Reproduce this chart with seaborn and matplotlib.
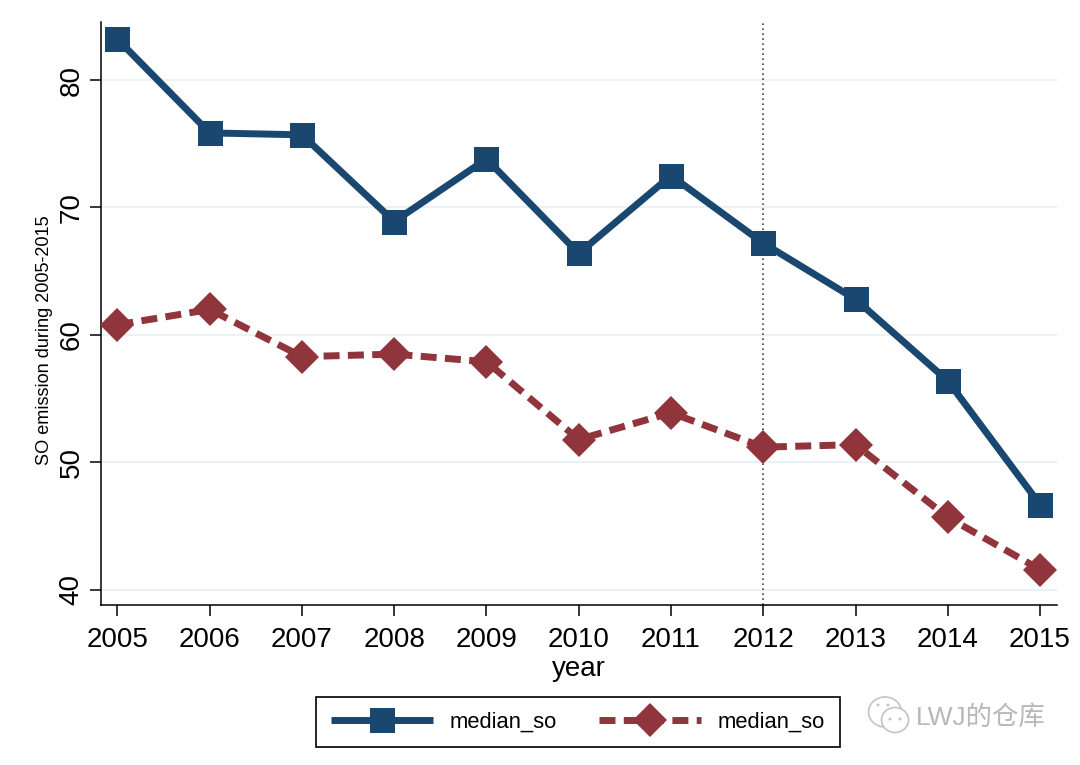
import pandas as pd
import matplotlib.pyplot as plt
import seaborn as sns
from matplotlib.patches import Ellipse

#--------------------------------------------------------
years=[2005,2006,2007,2008,2009,2010,2011,2012,2013,2014,2015]
so_high=[83.2,75.85,75.7,68.9,73.8,66.4,72.5,67.2,62.8,56.4,46.7]
so_low=[60.8,62.0,58.3,58.5,57.9,51.8,53.9,51.2,51.4,45.7,41.6]
y_ticks=[40,50,60,70,80]
vline_year=2012

c_blue='#1a476f'
c_red='#90353b'
c_grid='#eaf2f3'

#--------------------------------------------------------
sns.set_style('white')
plt.rcParams['font.family']=['Liberation Sans', 'Noto Sans CJK SC']

df=pd.DataFrame({'year':years, 'high':so_high, 'low':so_low})

W, H=1080, 765
fig=plt.figure(figsize=(W/100, H/100), dpi=100)
ax=fig.add_axes([100.5/W, 1-605/H, (1057-100.5)/W, (605-22)/H])

#plot
sns.lineplot(x='year', y='high', data=df, color=c_blue, lw=5, marker='s', ms=18,
	mew=0, solid_capstyle='butt', label='median_so', ax=ax, zorder=4, legend=False)
sns.lineplot(x='year', y='low', data=df, color=c_red, lw=5, marker='D', ms=17,
	mew=0, linestyle=(0, (2.3, 1.2)), dash_capstyle='butt', label='median_so', ax=ax, zorder=3, legend=False)
ax.axvline(vline_year, color='#444444', lw=1.2, ls=(0, (1, 2)), zorder=2)

#adjust
ax.set_xlim(2004.816, 2015.184)
ax.set_ylim(38.82, 84.55)
ax.set_xticks(years)
ax.set_yticks(y_ticks)
ax.grid(axis='y', color=c_grid, lw=1.6)
ax.grid(axis='x', visible=False)
ax.set_axisbelow(True)
sns.despine(ax=ax)
for s in ['left', 'bottom']:
	ax.spines[s].set_color('black')
	ax.spines[s].set_linewidth(1.1)
ax.tick_params(axis='both', direction='out', length=8, width=1.1, color='black',
	left=True, bottom=True, labelsize=20, labelcolor='black')
ax.tick_params(axis='x', pad=8)
ax.tick_params(axis='y', pad=3.5)
plt.setp(ax.get_yticklabels(), rotation=90, va='center')
ax.set_xlabel('year', fontsize=20, labelpad=2, color='black')
ax.set_ylabel('SO emission during 2005-2015', fontsize=13.1, labelpad=4, color='black', y=0.4545)

#legend
h, l=ax.get_legend_handles_labels()
leg=fig.legend(h, l, loc='center', bbox_to_anchor=(578/W, 1-722/H), ncol=2, fontsize=15.8,
	frameon=True, fancybox=False, framealpha=1, edgecolor='black', handlelength=4.65,
	handletextpad=0.75, columnspacing=1.95, borderpad=0.66, labelcolor='black')
leg.get_frame().set_linewidth(1.2)

#watermark
for cx, cy, w, h_e in [(885, 712, 33, 30), (895, 720, 27, 25)]:
	fig.add_artist(Ellipse((cx/W, 1-cy/H), w/W, h_e/H, transform=fig.transFigure,
		fc='white', ec='#c4c4c4', lw=1.2))
for cx, cy in [(878, 705), (888, 705), (890, 719), (900, 719)]:
	fig.add_artist(Ellipse((cx/W, 1-cy/H), 3/W, 3/H, transform=fig.transFigure, fc='#c4c4c4', ec='none'))
fig.text(916/W, 1-717/H, 'LWJ的仓库', fontsize=19, color='#b8b8b8', va='center', ha='left',
	family=['Liberation Sans', 'Noto Sans CJK SC'])

#save
plt.savefig('out.png', dpi=100)
plt.close()
